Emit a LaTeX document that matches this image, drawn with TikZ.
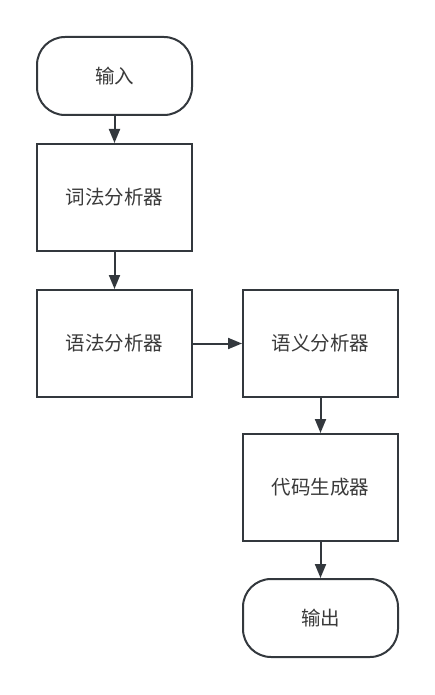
\documentclass[tikz,border=0pt]{standalone}
\usepackage{fontspec}
\newfontfamily\cjk{Noto Sans CJK SC}
\usetikzlibrary{arrows.meta}
\definecolor{ln}{HTML}{33383D}
\definecolor{tx}{HTML}{3A3A3A}
\begin{document}
\begin{tikzpicture}[x=1pt,y=-1pt,
  box/.style={draw=ln,line width=2pt,fill=white,minimum width=155pt,minimum height=107pt,inner sep=0pt,font=\cjk\fontsize{19.5}{22}\selectfont,text=tx},
  term/.style={box,minimum height=78pt,rounded corners=28pt},
  arr/.style={draw=ln,line width=2pt,-{Triangle[length=14pt,width=11pt]}}]
\useasboundingbox (0,0) rectangle (435,695);
\node[term] (in) at (114.5,76) {输入};
\node[box] (lex) at (114.5,197.5) {词法分析器};
\node[box] (syn) at (114.5,343.5) {语法分析器};
\node[box] (sem) at (320.5,343.5) {语义分析器};
\node[box] (gen) at (320.5,487.5) {代码生成器};
\node[term] (out) at (320.5,618) {输出};
\draw[arr] (in) -- (lex);
\draw[arr] (lex) -- (syn);
\draw[arr] (syn) -- (sem);
\draw[arr] (sem) -- (gen);
\draw[arr] (gen) -- (out);
\end{tikzpicture}
\end{document}
